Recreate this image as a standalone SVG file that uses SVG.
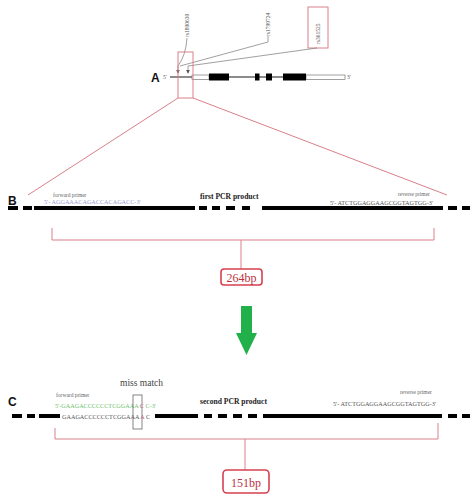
<svg xmlns="http://www.w3.org/2000/svg" width="474" height="496" viewBox="0 0 474 496">
<defs>
<style>
.lbl{font-family:"Liberation Sans",Arial,sans-serif;font-weight:bold;font-size:12px;fill:#111}
.ser{font-family:"Liberation Serif","Times New Roman",serif}
.small{font-size:5.5px;fill:#666}
.seq{font-size:6.2px;fill:#555}
.title{font-size:7.6px;font-weight:bold;fill:#222}
.red{stroke:#d9808a;stroke-width:1;fill:none}
.dna{stroke:#000;stroke-width:4;fill:none}
.lead{stroke:#888;stroke-width:0.8;fill:none}
.bp{fill:#fff;stroke:#d8404f;stroke-width:1.6}
.bpt{font-size:12px;fill:#c0303c;text-anchor:middle}
.snp{font-size:5.5px;fill:#555}
</style>
<marker id="ah" viewBox="0 0 6 6" refX="5" refY="3" markerWidth="5" markerHeight="5" orient="auto">
<path d="M0,0 L6,3 L0,6 z" fill="#555"/>
</marker>
</defs>
<rect width="474" height="496" fill="#fff"/>

<g id="panelA">
<text class="lbl" x="151" y="82">A</text>
<text class="ser snp" x="163" y="79">5'</text>
<text class="ser snp" x="347" y="79">3'</text>
<line x1="170" y1="77" x2="345" y2="77" stroke="#666" stroke-width="1.5"/>
<rect x="192" y="75" width="17" height="4.5" fill="#fff" stroke="#777" stroke-width="0.7"/>
<rect x="306" y="75" width="39" height="4.5" fill="#fff" stroke="#777" stroke-width="0.7"/>
<rect x="209" y="73.5" width="20" height="7" fill="#000"/>
<rect x="255" y="73.5" width="4.5" height="7" fill="#000"/>
<rect x="266" y="73.5" width="6" height="7" fill="#000"/>
<rect x="283" y="73.5" width="23" height="7" fill="#000"/>
</g>

<g id="snps">
<text class="ser snp" transform="translate(189,37) rotate(-90)">rs1800630</text>
<text class="ser snp" transform="translate(270,36) rotate(-90)">rs1799724</text>
<rect x="308" y="7" width="20" height="41" class="red"/>
<text class="ser snp" transform="translate(320,44) rotate(-90)">rs361525</text>
</g>

<g id="connectors">
<path class="lead" d="M187,38 Q186,55 178,66 L178,73" marker-end="url(#ah)"/>
<path class="lead" d="M268,36 L268,42 L180,66"/>
<path class="lead" d="M317,48 L188,66 L188,73" marker-end="url(#ah)"/>
<rect x="178" y="52" width="15" height="46" class="red"/>
<line class="red" x1="178" y1="98" x2="28" y2="195"/>
<line class="red" x1="193" y1="98" x2="447" y2="195"/>
<path class="red" d="M52,228 V240 H434 V228 M241,240 V269"/>
<path class="red" d="M55,428 V439 H438 V423 M245,439 V470"/>
</g>

<g id="panelB">
<text class="lbl" x="8" y="205">B</text>
<path class="dna" d="M8,208H18 M23,208H32 M34,208H195 M199,208H207 M212,208H220 M226,208H235 M242,208H250 M262,208H443 M448,208H457 M462,208H470"/>
<text class="ser small" x="53" y="197">forward primer</text>
<text class="ser seq" x="44" y="204" style="fill:#9a9ad4">5'- AGGAAACAGACCACAGACC-3'</text>
<text class="ser title" x="200" y="199">first PCR product</text>
<text class="ser small" x="398" y="196">reverse primer</text>
<text class="ser seq" x="330" y="205">5'- ATCTGGAGGAAGCGGTAGTGG-3'</text>
</g>

<g id="bp264">
<rect class="bp" x="221" y="269" width="41" height="16" rx="3"/>
<text class="ser bpt" x="241.5" y="282">264bp</text>
</g>

<g id="arrow">
<path d="M241,306 H252 V333 H257 L246.5,355 L236,333 H241 Z" fill="#22b04a"/>
</g>

<g id="panelC">
<text class="lbl" x="8" y="406">C</text>
<text class="ser" x="120" y="386" font-size="9.5" fill="#444">miss match</text>
<path class="dna" d="M12,416H22 M27,416H35 M39,416H60 M155,416H198 M204,416H212 M218,416H227 M233,416H242 M248,416H257 M263,416H442 M448,416H457 M462,416H470"/>
<text class="ser small" x="56" y="397">forward primer</text>
<text class="ser seq" x="55" y="408"><tspan style="fill:#6cbf6c">5'-GAAGACCCCCCTCGGAAA</tspan><tspan style="fill:#d9606a"> C </tspan><tspan style="fill:#6cbf6c">C-3'</tspan></text>
<text class="ser seq" x="62" y="418.5">GAAGACCCCCCTCGGAAA<tspan style="fill:#d9606a"> A </tspan>C</text>
<rect x="133" y="395" width="9" height="34" fill="none" stroke="#666" stroke-width="0.8"/>
<text class="ser title" x="200" y="404">second PCR product</text>
<text class="ser small" x="400" y="394">reverse primer</text>
<text class="ser seq" x="333" y="406">5'- ATCTGGAGGAAGCGGTAGTGG-3'</text>
</g>

<g id="bp151">
<rect class="bp" x="223" y="470" width="46" height="23" rx="4"/>
<text class="ser bpt" x="246" y="487">151bp</text>
</g>
</svg>
